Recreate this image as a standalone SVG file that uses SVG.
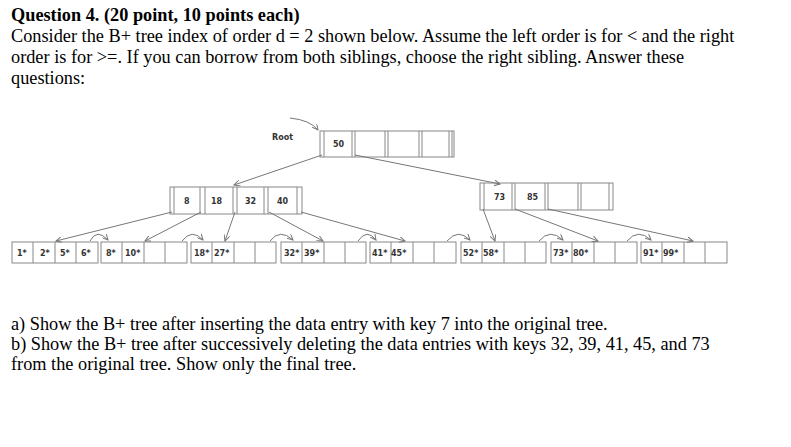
<svg xmlns="http://www.w3.org/2000/svg" width="791" height="447" viewBox="0 0 791 447">
<style>
.t{font-family:"Liberation Serif",serif;font-size:18.3px;fill:#000}
.b{stroke:#888;stroke-width:1;fill:#fff}
.s{stroke:#888;stroke-width:1;fill:none}
.k{font-family:"DejaVu Sans",sans-serif;font-size:8px;font-weight:bold;fill:#333}
.c{stroke:#777;stroke-width:1;fill:none;marker-end:url(#a)}
</style>
<defs><marker id="a" markerWidth="7" markerHeight="6" refX="6" refY="3" orient="auto"><path d="M0,0L6,3L0,6" fill="none" stroke="#777"/></marker></defs>
<rect width="791" height="447" fill="#fff"/>
<text class="t" x="11" y="21" font-weight="bold">Question 4. (20 point, 10 points each)</text>
<text class="t" x="11" y="42">Consider the B+ tree index of order d = 2 shown below. Assume the left order is for &lt; and the right</text>
<text class="t" x="11" y="63">order is for &gt;=. If you can borrow from both siblings, choose the right sibling. Answer these</text>
<text class="t" x="11" y="84">questions:</text>
<text class="t" x="11" y="330">a) Show the B+ tree after inserting the data entry with key 7 into the original tree.</text>
<text class="t" x="11" y="350">b) Show the B+ tree after successively deleting the data entries with keys 32, 39, 41, 45, and 73</text>
<text class="t" x="11" y="370">from the original tree. Show only the final tree.</text>
<g id="root">
<text class="k" x="272" y="140">Root</text>
<rect class="b" x="320" y="131" width="134" height="26"/>
<path class="s" d="M324,131V157M352,131V157M355,131V157M385,131V157M388,131V157M419,131V157M422,131V157M449,131V157M452,131V157"/>
<text class="k" x="333" y="147">50</text>
</g>
<g id="n8">
<rect class="b" x="170" y="187" width="132" height="27"/>
<path class="s" d="M174,187V214M200,187V214M205,187V214M233,187V214M237,187V214M264,187V214M268,187V214M297,187V214"/>
<text class="k" x="184" y="204">8</text><text class="k" x="211" y="204">18</text><text class="k" x="245" y="204">32</text><text class="k" x="277" y="204">40</text>
</g>
<g id="n73">
<rect class="b" x="480" y="183" width="133" height="27"/>
<path class="s" d="M484,183V210M512,183V210M515,183V210M545,183V210M548,183V210M578,183V210M581,183V210M609,183V210"/>
<text class="k" x="494" y="200">73</text><text class="k" x="527" y="200">85</text>
</g>
<g id="leaves">
<g id="l1"><rect class="b" x="12" y="242" width="86" height="21"/><path class="s" d="M33,242V263M55,242V263M76,242V263"/><text class="k" x="17" y="256">1*</text><text class="k" x="40" y="256">2*</text><text class="k" x="60" y="256">5*</text><text class="k" x="81" y="256">6*</text></g>
<g id="l2"><rect class="b" x="101" y="242" width="86" height="21"/><path class="s" d="M122,242V263M144,242V263M165,242V263"/><text class="k" x="106" y="256">8*</text><text class="k" x="125" y="256">10*</text></g>
<g id="l3"><rect class="b" x="191" y="242" width="85" height="21"/><path class="s" d="M212,242V263M234,242V263M255,242V263"/><text class="k" x="194" y="256">18*</text><text class="k" x="214" y="256">27*</text></g>
<g id="l4"><rect class="b" x="281" y="242" width="85" height="21"/><path class="s" d="M302,242V263M324,242V263M345,242V263"/><text class="k" x="284" y="256">32*</text><text class="k" x="304" y="256">39*</text></g>
<g id="l5"><rect class="b" x="370" y="242" width="86" height="21"/><path class="s" d="M391,242V263M413,242V263M434,242V263"/><text class="k" x="372" y="256">41*</text><text class="k" x="391" y="256">45*</text></g>
<g id="l6"><rect class="b" x="461" y="242" width="85" height="21"/><path class="s" d="M482,242V263M504,242V263M525,242V263"/><text class="k" x="463" y="256">52*</text><text class="k" x="483" y="256">58*</text></g>
<g id="l7"><rect class="b" x="551" y="242" width="86" height="21"/><path class="s" d="M572,242V263M594,242V263M615,242V263"/><text class="k" x="553" y="256">73*</text><text class="k" x="573" y="256">80*</text></g>
<g id="l8"><rect class="b" x="641" y="242" width="86" height="21"/><path class="s" d="M662,242V263M684,242V263M705,242V263"/><text class="k" x="643" y="256">91*</text><text class="k" x="663" y="256">99*</text></g>
</g>
<g id="connectors">
<path class="c" d="M290,118Q310,120 318,130"/>
<path class="c" d="M322,155L234,185"/>
<path class="c" d="M355,155L500,184"/>
<path class="c" d="M172,212L56,241"/>
<path class="c" d="M201,212L145,241"/>
<path class="c" d="M235,212L225,241"/>
<path class="c" d="M269,212L323,241"/>
<path class="c" d="M301,212L405,241"/>
<path class="c" d="M483,209L495,241"/>
<path class="c" d="M515,209L598,241"/>
<path class="c" d="M548,209L693,241"/>
<path class="c" d="M90,241Q97,228 108,240"/>
<path class="c" d="M182,241Q192,228 203,240"/>
<path class="c" d="M270,241Q280,228 293,240"/>
<path class="c" d="M358,241Q367,228 376,240"/>
<path class="c" d="M447,241Q458,228 470,240"/>
<path class="c" d="M539,241Q550,228 563,240"/>
<path class="c" d="M627,241Q638,228 651,240"/>
</g>
</svg>
